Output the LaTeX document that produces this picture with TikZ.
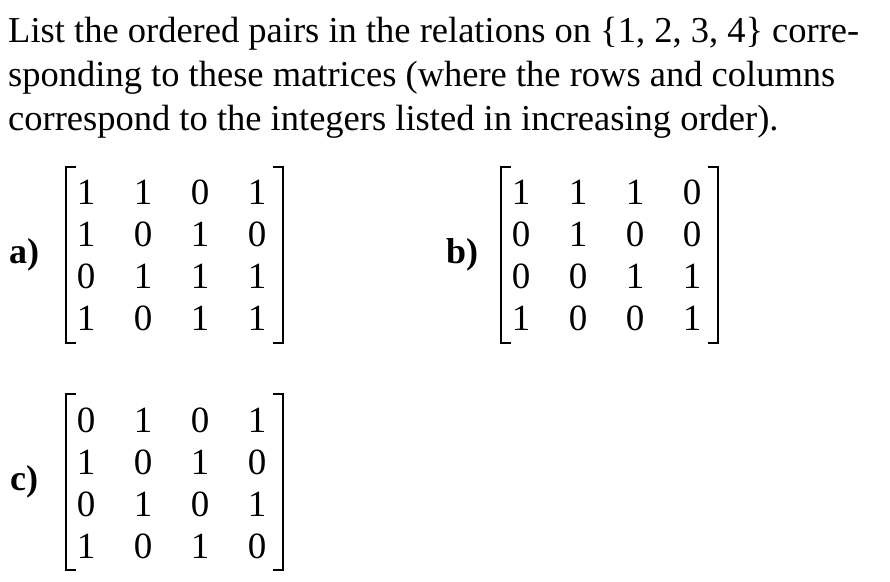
\documentclass[tikz,border=0pt]{standalone}
\usepackage{fontspec}
\setmainfont{Liberation Serif}
\begin{document}
\begin{tikzpicture}[x=1pt,y=-1pt,
  txt/.style={anchor=base west,inner sep=0pt,font=\fontsize{36.5}{42}\selectfont},
  ent/.style={inner sep=0pt,font=\fontsize{37}{44}\selectfont},
  lab/.style={inner sep=0pt,font=\fontsize{36}{42}\selectfont\bfseries},
  brk/.style={line width=1.8pt}]
\useasboundingbox (0,0) rectangle (890,581);
\node[txt] (l1) at (8,42) {List the ordered pairs in the relations on \{1, 2, 3, 4\} corre-};
\node[txt] (l2) at (8,86) {sponding to these matrices (where the rows and columns};
\node[txt] (l3) at (8,130) {correspond to the integers listed in increasing order).};
\foreach \i/\row in {0/{1,1,0,1},1/{1,0,1,0},2/{0,1,1,1},3/{1,0,1,1}}{
  \foreach \v [count=\j from 0] in \row {
    \node[ent] (a\i\j) at (86+57*\j,192+42*\i) {\v};
  }
}
\foreach \i/\row in {0/{1,1,1,0},1/{0,1,0,0},2/{0,0,1,1},3/{1,0,0,1}}{
  \foreach \v [count=\j from 0] in \row {
    \node[ent] (b\i\j) at (521+57*\j,192+42*\i) {\v};
  }
}
\foreach \i/\row in {0/{0,1,0,1},1/{1,0,1,0},2/{0,1,0,1},3/{1,0,1,0}}{
  \foreach \v [count=\j from 0] in \row {
    \node[ent] (c\i\j) at (86+57*\j,420+42*\i) {\v};
  }
}
\node[lab] (la) at (24,255) {a)};
\node[lab] (lb) at (462,255) {b)};
\node[lab] (lc) at (24,482) {c)};
% brackets
\draw[brk] (76,167) -- (66,167) -- (66,343) -- (76,343);
\draw[brk] (273,167) -- (283,167) -- (283,343) -- (273,343);
\draw[brk] (511,167) -- (501,167) -- (501,343) -- (511,343);
\draw[brk] (708,167) -- (718,167) -- (718,343) -- (708,343);
\draw[brk] (76,394) -- (66,394) -- (66,570) -- (76,570);
\draw[brk] (273,394) -- (283,394) -- (283,570) -- (273,570);
\end{tikzpicture}
\end{document}
